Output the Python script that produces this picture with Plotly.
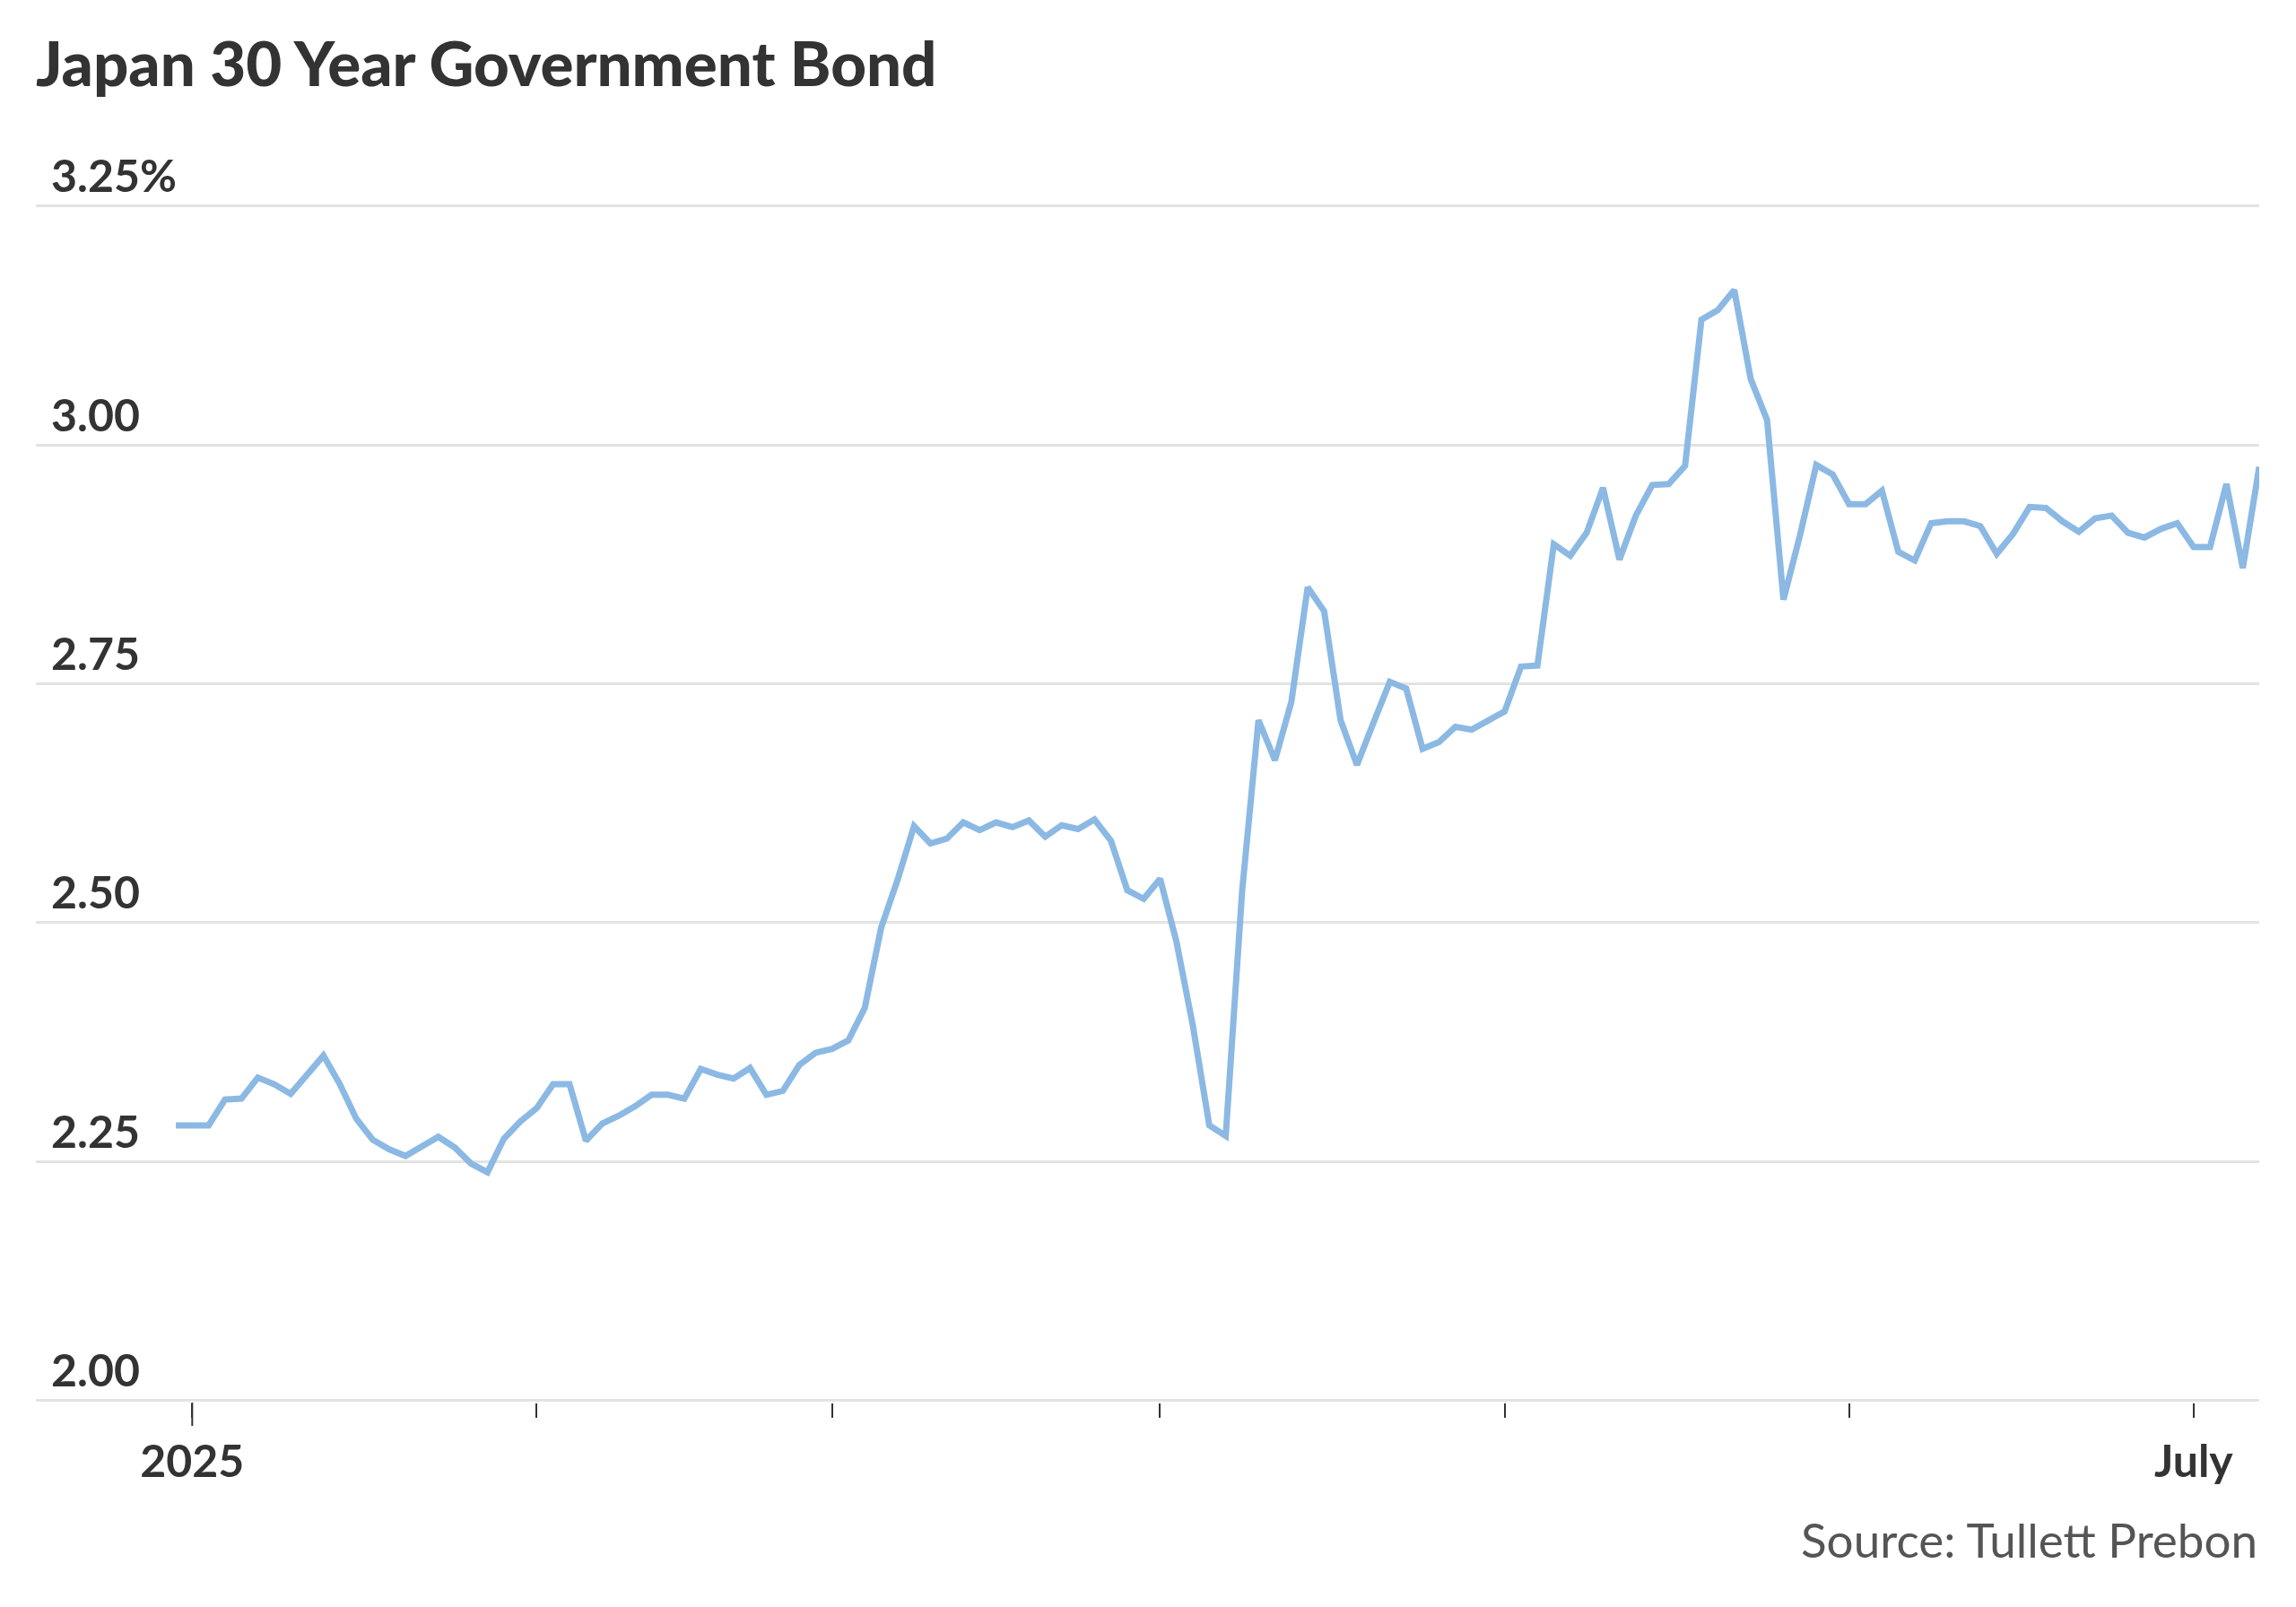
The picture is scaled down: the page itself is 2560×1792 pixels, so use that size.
import plotly.graph_objects as go

# Japan 30-year government bond yield (%), one value per trading day,
# from the last session of 2024 to early July 2025
yield_pct = [
    2.288, 2.288, 2.288, 2.315, 2.316, 2.338, 2.331, 2.321, 2.342, 2.361,
    2.331, 2.295, 2.273, 2.263, 2.256, 2.266, 2.276, 2.265, 2.248, 2.239,
    2.274, 2.292, 2.306, 2.331, 2.331, 2.272, 2.290, 2.298, 2.308, 2.320,
    2.320, 2.316, 2.347, 2.341, 2.337, 2.348, 2.320, 2.324, 2.351, 2.364,
    2.368, 2.377, 2.411, 2.495, 2.545, 2.601, 2.583, 2.588, 2.605, 2.597,
    2.605, 2.600, 2.607, 2.590, 2.602, 2.598, 2.608, 2.586, 2.534, 2.525,
    2.546, 2.480, 2.392, 2.288, 2.277, 2.533, 2.712, 2.670, 2.731, 2.851,
    2.826, 2.712, 2.665, 2.709, 2.752, 2.745, 2.682, 2.689, 2.705, 2.702,
    2.711, 2.721, 2.768, 2.769, 2.896, 2.884, 2.908, 2.955, 2.880, 2.926,
    2.958, 2.959, 2.978, 3.131, 3.141, 3.162, 3.069, 3.026, 2.838, 2.905,
    2.979, 2.969, 2.938, 2.938, 2.952, 2.888, 2.879, 2.918, 2.920, 2.920,
    2.915, 2.886, 2.907, 2.935, 2.934, 2.920, 2.909, 2.923, 2.926, 2.908,
    2.903, 2.912, 2.918, 2.893, 2.893, 2.959, 2.871, 2.977,
]
trading_day = list(range(len(yield_pct)))

# first trading day of each month (Jan..Jul 2025) as trading-day index
month_tick_idx = [1, 22, 40, 60, 81, 102, 123]
month_tick_labels = ["2025", "", "", "", "", "", "July"]

y_tick_vals = [2.00, 2.25, 2.50, 2.75, 3.00, 3.25]
y_tick_labels = ["2.00", "2.25", "2.50", "2.75", "3.00", "3.25%"]

W, H = 2560, 1792
# gridline 3.25 sits at y=230 px, gridline 2.00 at y=1562 px
GRID_TOP, GRID_BOT = 230, 1562
unit_px = (GRID_BOT - GRID_TOP) / (3.25 - 2.00)
pad_top, pad_bot = 0.085, 0.002
MT = GRID_TOP - pad_top * unit_px
MB = (H - GRID_BOT) - pad_bot * unit_px
ML, MR = 40, 41

fig = go.Figure()
fig.add_trace(go.Scatter(
    x=trading_day, y=yield_pct, mode="lines",
    line=dict(color="#8bb9e3", width=7),
    hoverinfo="skip", showlegend=False,
))

fig.update_layout(
    width=W, height=H,
    margin=dict(l=ML, r=MR, t=MT, b=MB, pad=0),
    paper_bgcolor="white", plot_bgcolor="white",
    font=dict(family="Lato", color="#333333"),
    title=dict(
        text="Japan 30 Year Government Bond",
        font=dict(family="Lato", size=69, color="#333333", weight=900),
        xref="paper", x=0, xanchor="left",
        yref="container", y=1 - 72 / H, yanchor="middle",
    ),
    xaxis=dict(
        range=[-8.53, 127.0],
        tickmode="array", tickvals=month_tick_idx, ticktext=month_tick_labels,
        ticks="outside", ticklen=16, tickwidth=2, tickcolor="#333333",
        tickfont=dict(family="Lato", size=50, color="#333333", weight=700),
        ticklabelstandoff=6,
        showgrid=False, zeroline=False, showline=False,
        fixedrange=True,
    ),
    yaxis=dict(
        range=[2.0 - pad_bot, 3.25 + pad_top],
        tickmode="array", tickvals=y_tick_vals, ticktext=y_tick_labels,
        ticks="", showgrid=True, gridcolor="#e3e3e3", gridwidth=3,
        zeroline=False, showline=False,
        ticklabelposition="inside", side="left",
        ticklabelshift=-33, ticklabelstandoff=14,
        tickfont=dict(family="Lato", size=50, color="#333333", weight=700),
        fixedrange=True,
    ),
    shapes=[dict(
        type="line", xref="x", yref="paper",
        x0=month_tick_idx[0], x1=month_tick_idx[0],
        ysizemode="pixel", yanchor=0, y0=0, y1=-26,
        line=dict(color="#333333", width=2),
    )],
    annotations=[dict(
        text="Source: Tullett Prebon",
        xref="paper", yref="paper", x=1,
        y=-(1717 - (H - MB)) / (H - MT - MB),
        xanchor="right", yanchor="middle", showarrow=False,
        font=dict(family="Lato", size=53, color="#555555"),
    )],
)

fig.write_html("out.html")
